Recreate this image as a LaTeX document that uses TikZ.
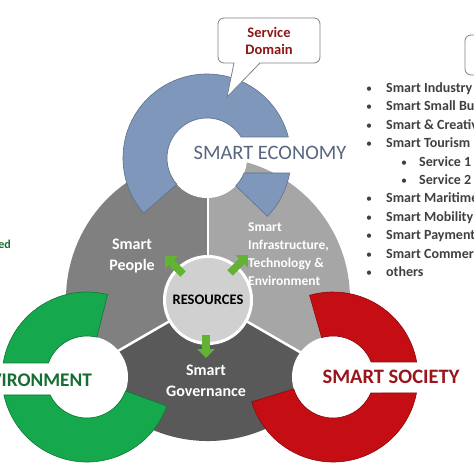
\documentclass[tikz,border=0pt]{standalone}
\usepackage{fontspec}
\setmainfont{Carlito}
\usetikzlibrary{arrows.meta,calc}
\definecolor{pplgray}{RGB}{128,128,128}
\definecolor{infgray}{RGB}{166,166,166}
\definecolor{govgray}{RGB}{89,89,89}
\definecolor{resgray}{RGB}{208,208,208}
\definecolor{ringblue}{RGB}{126,151,186}
\definecolor{ringgreen}{RGB}{22,168,76}
\definecolor{ringred}{RGB}{196,14,20}
\definecolor{econtext}{RGB}{88,102,128}
\definecolor{envtext}{RGB}{22,110,52}
\definecolor{soctext}{RGB}{152,22,28}
\definecolor{svctext}{RGB}{140,22,22}
\definecolor{listtext}{RGB}{64,64,64}
\definecolor{arrowgreen}{RGB}{98,178,52}
\tikzset{
  wlabel/.style={text=white,font=\bfseries\fontsize{16bp}{21bp}\selectfont,align=center,inner sep=0},
  garrow/.style={line width=7.5bp,-{Triangle[length=9bp,width=17bp]},color=arrowgreen},
  bigtext/.style={font=\bfseries\fontsize{20.5bp}{24bp}\selectfont,inner sep=0},
  listitem/.style={anchor=base west,text=listtext,font=\bfseries\fontsize{14bp}{16bp}\selectfont,inner sep=0},
  bulletmark/.style={anchor=base west,text=listtext,font=\fontsize{12bp}{14bp}\selectfont,inner sep=0},
  callout/.style={draw=gray,fill=white,line width=0.8bp},
}
\begin{document}
\begin{tikzpicture}[x=1bp,y=-1bp]
\clip (0,0) rectangle (474,474);
\fill[white] (0,0) rectangle (474,474);

% pie of three sectors
\coordinate (pc) at (208,299);
\fill[pplgray] (pc) -- ($(pc)+(150:142)$) arc[start angle=150,end angle=270,radius=142] -- cycle;
\fill[infgray] (pc) -- ($(pc)+(270:142)$) arc[start angle=270,end angle=390,radius=142] -- cycle;
\fill[govgray] (pc) -- ($(pc)+(30:142)$) arc[start angle=30,end angle=150,radius=142] -- cycle;
\foreach \a in {30,150,270} \draw[white,line width=2.5bp] (pc) -- ($(pc)+(\a:142)$);

% ring centres
\coordinate (bc) at (207,158);
\coordinate (gc) at (87,377);
\coordinate (rc) at (333,377);

% white holes
\fill[white] (bc) circle[radius=40];
\fill[white] (gc) circle[radius=41];
\fill[white] (rc) circle[radius=41];

% blue ring (smart economy)
\filldraw[fill=ringblue,draw=ringblue!75!black,line width=0.6bp]
  ($(bc)+(139:84)$) arc[start angle=139,end angle=345.5,radius=84]
  -- ($(bc)+(328.3:40)$) arc[start angle=328.3,end angle=139,radius=40] -- cycle;
\filldraw[fill=ringblue,draw=ringblue!75!black,line width=0.6bp]
  ($(bc)+(10.3:84)$) arc[start angle=10.3,end angle=44,radius=84]
  -- ($(bc)+(44:40)$) arc[start angle=44,end angle=22,radius=40] -- cycle;

% green ring (environment)
\filldraw[fill=ringgreen,draw=ringgreen!70!black,line width=0.6bp]
  ($(gc)+(20:85)$) arc[start angle=20,end angle=167.8,radius=85]
  -- ($(gc)+(154:41)$) arc[start angle=154,end angle=20,radius=41] -- cycle;
\filldraw[fill=ringgreen,draw=ringgreen!70!black,line width=0.6bp]
  ($(gc)+(189.5:85)$) arc[start angle=189.5,end angle=284,radius=85]
  -- ($(gc)+(284:41)$) arc[start angle=284,end angle=200,radius=41] -- cycle;

% red ring (society)
\filldraw[fill=ringred,draw=ringred!70!black,line width=0.6bp]
  ($(rc)+(254:85)$) arc[start angle=254,end angle=349.8,radius=85]
  -- ($(rc)+(338.5:41)$) arc[start angle=338.5,end angle=254,radius=41] -- cycle;
\filldraw[fill=ringred,draw=ringred!70!black,line width=0.6bp]
  ($(rc)+(10.8:85)$) arc[start angle=10.8,end angle=163,radius=85]
  -- ($(rc)+(163:41)$) arc[start angle=163,end angle=23,radius=41] -- cycle;

% resources circle
\node[circle,fill=resgray,draw=white,line width=3bp,minimum size=87bp,inner sep=0,
      font=\bfseries\fontsize{14.5bp}{16bp}\selectfont] (res) at (208,300) {RESOURCES};

% green arrows
\coordinate (a1s) at (183,274); \coordinate (a1e) at (165,256);
\coordinate (a2s) at (230,273); \coordinate (a2e) at (248,255);
\coordinate (a3s) at (206,335); \coordinate (a3e) at (206,358);
\draw[garrow] (a1s) -- (a1e);
\draw[garrow] (a2s) -- (a2e);
\draw[garrow] (a3s) -- (a3e);

% sector labels
\node[wlabel] (people) at (132,256) {Smart\\People};
\node[wlabel,anchor=west,align=left,font=\bfseries\fontsize{13.5bp}{18bp}\selectfont] (infra) at (248,254)
  {Smart\\Infrastructure,\\Technology \&\\Environment};
\node[wlabel] (gov) at (206,381) {Smart\\Governance};

% ring titles
\node[bigtext,font=\fontsize{20.5bp}{24bp}\selectfont,text=econtext] (econ) at (270,153) {SMART ECONOMY};
\node[bigtext,text=soctext] (soc) at (391,377) {SMART SOCIETY};
\node[bigtext,font=\bfseries\fontsize{19.3bp}{23bp}\selectfont,text=envtext,anchor=east] (env) at (92,380) {ENVIRONMENT};
\node[anchor=east,text=envtext,font=\bfseries\fontsize{12bp}{14bp}\selectfont,inner sep=0] (ed) at (11,244) {ed};

% callout
\draw[callout,rounded corners=6bp] (224,18) -- (320,18) -- (320,63)
  [sharp corners] -- (260,63) -- (227,97) -- (234,63) [rounded corners=6bp] -- (218,63) -- (218,18) -- (224,18);
\node[text=svctext,font=\bfseries\fontsize{14.5bp}{17bp}\selectfont,align=center,inner sep=0] (svc) at (269,41) {Service\\Domain};

% partial box at top right
\draw[callout,rounded corners=6bp] (465,35) rectangle (520,75);

% bullet list
\foreach \t [count=\i from 0] in {Smart Industry,Smart Small Business,Smart \& Creative Industry,Smart Tourism,,,Smart Maritime,Smart Mobility,Smart Payment,Smart Commerce,others}{
  \ifx\t\empty\else
  \node[bulletmark] (b\i) at (366,{88+18.4*\i+4.5}) {•};
  \node[listitem] (l\i) at (386,{88+18.4*\i+4.5}) {\t};
  \fi
}
\node[bulletmark] (b4) at (401,{88+18.4*4+4.5}) {•};
\node[listitem] (l4) at (419,{88+18.4*4+4.5}) {Service 1};
\node[bulletmark] (b5) at (401,{88+18.4*5+4.5}) {•};
\node[listitem] (l5) at (419,{88+18.4*5+4.5}) {Service 2};
\end{tikzpicture}
\end{document}
